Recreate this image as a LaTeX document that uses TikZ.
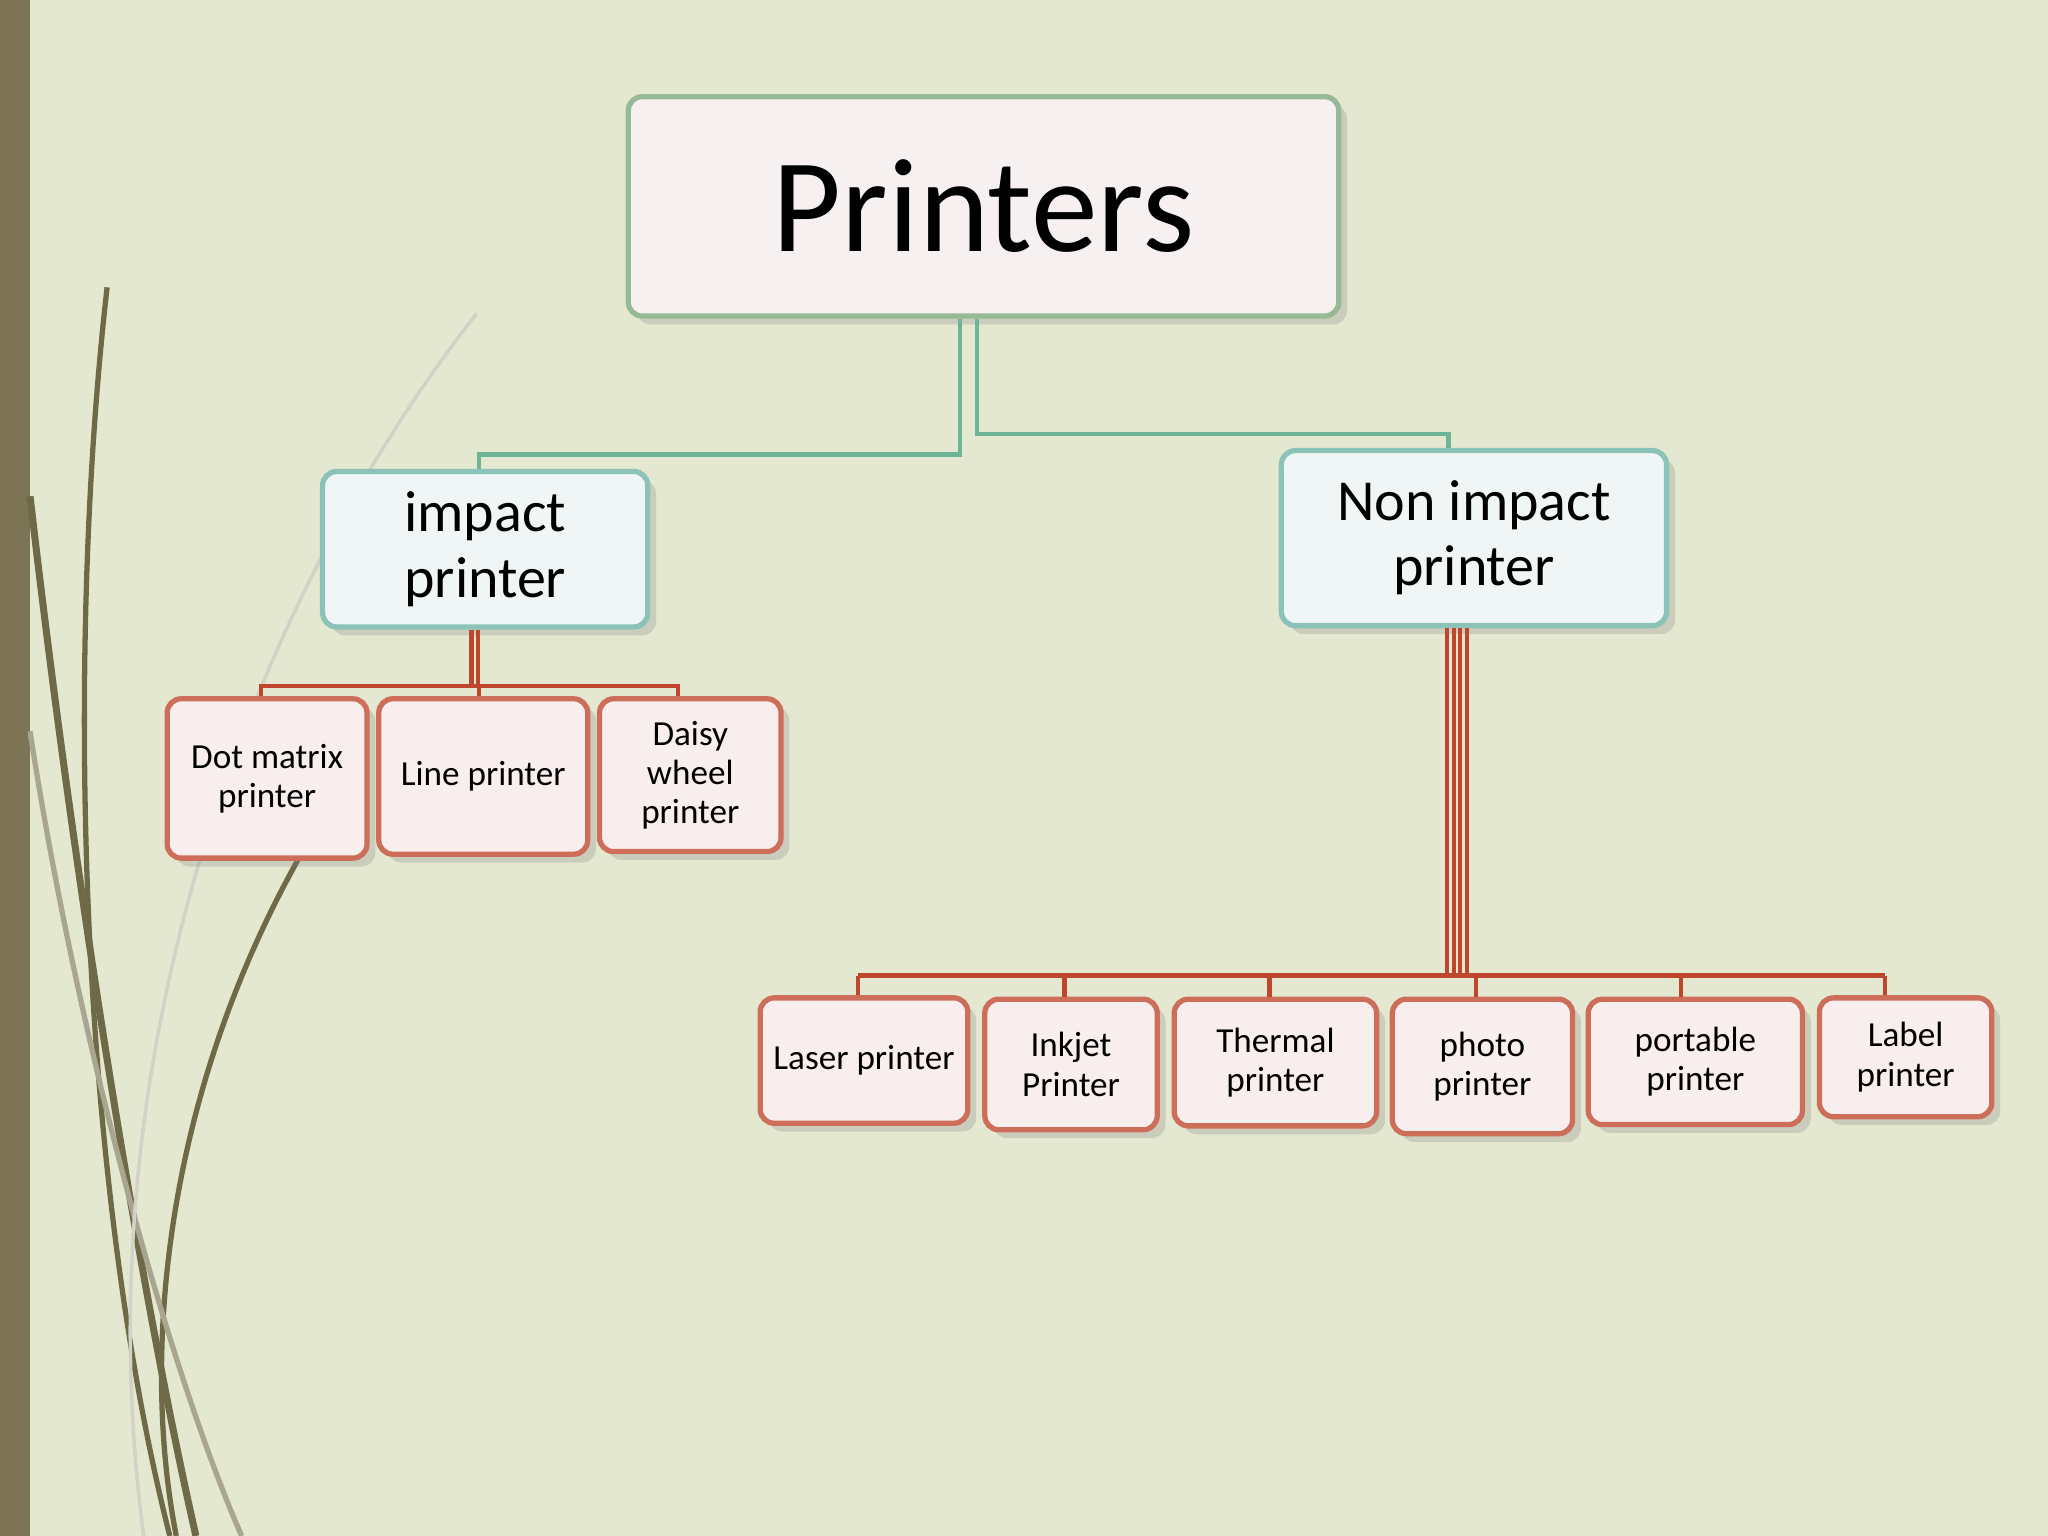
\documentclass[tikz,border=0pt]{standalone}
\usepackage{fontspec}
\setmainfont{Carlito}
\usetikzlibrary{shadows}
\definecolor{bg}{RGB}{228,232,208}
\definecolor{bar}{RGB}{125,115,85}
\definecolor{grn}{RGB}{110,180,150}
\definecolor{redl}{RGB}{190,70,45}
\definecolor{redb}{RGB}{205,110,90}
\definecolor{topb}{RGB}{150,185,150}
\definecolor{midb}{RGB}{140,195,185}
\definecolor{olive}{RGB}{110,105,70}
\newcommand\uu{0.013061cm}
\tikzset{
 sz/.style 2 args={minimum width=#1*\uu,minimum height=#2*\uu,inner sep=1pt},
 topbox/.style={draw=topb,line width=1.5pt,fill={rgb,255:red,246;green,241;blue,240},rounded corners=4pt,drop shadow={opacity=0.25}},
 midbox/.style={draw=midb,line width=1.5pt,fill={rgb,255:red,240;green,246;blue,245},rounded corners=4pt,drop shadow={opacity=0.25},align=center,font=\fontsize{16.5}{18.5}\selectfont},
 leaf/.style={draw=redb,line width=1.5pt,fill={rgb,255:red,249;green,238;blue,238},rounded corners=4pt,drop shadow={opacity=0.25},align=center,font=\fontsize{10}{11.2}\selectfont},
 gline/.style={draw=grn,line width=1.2pt},
 rline/.style={draw=redl,line width=1.2pt},
}
\begin{document}
\begin{tikzpicture}[x=0.013061cm,y=-0.013061cm]
\fill[bg] (0,0) rectangle (1568,1176);
\useasboundingbox (0,0) rectangle (1568,1176);
\fill[bar] (0,0) rectangle (23,1176);
% decorative curves
\draw[olive,line width=2pt] (23,380) .. controls (60,700) and (110,1000) .. (150,1176);
\draw[olive,line width=1.5pt] (82,220) .. controls (50,500) and (60,900) .. (130,1176);
\draw[olive,line width=1.5pt] (230,655) .. controls (120,850) and (110,1050) .. (135,1176);
\draw[olive!60,line width=1.5pt] (23,560) .. controls (60,800) and (130,1050) .. (185,1176);
\draw[olive!30,line width=1pt] (365,240) .. controls (200,450) and (60,800) .. (110,1176);
% boxes
\node[topbox,sz={544}{168},font=\fontsize{38}{42}\selectfont] (p) at (753,158) {Printers};
\node[midbox,sz={249}{119}] (ip) at (371.5,420.5) {impact\\printer};
\node[midbox,sz={295}{134}] (nip) at (1128.5,412) {Non impact\\printer};
\node[leaf,sz={153}{122}] (dm) at (204.5,596) {Dot matrix\\printer};
\node[leaf,sz={160}{119}] (lp) at (370,594.5) {Line printer};
\node[leaf,sz={139}{117}] (dw) at (528.5,593.5) {Daisy\\wheel\\printer};
\node[leaf,sz={159}{96}] (la) at (661.5,812) {Laser printer};
\node[leaf,sz={132}{100}] (ik) at (820,815) {Inkjet\\Printer};
\node[leaf,sz={155}{97}] (th) at (976.5,813.5) {Thermal\\printer};
\node[leaf,sz={138}{103}] (ph) at (1135,816.5) {photo\\printer};
\node[leaf,sz={164}{96}] (po) at (1298,813) {portable\\printer};
\node[leaf,sz={132}{91}] (lb) at (1459,809.5) {Label\\printer};
% green connectors
\draw[gline] (p.south -| 735,0) |- (367,348) -- (ip.north -| 367,0);
\draw[gline] (p.south -| 748,0) |- (1109,332) -- (nip.north -| 1109,0);
% impact connectors
\draw[rline] (ip.south -| 361,0) -- (361,525);
\draw[rline] (ip.south -| 366,0) -- (366,525);
\draw[rline] (dm.north -| 200,0) -- (200,525) -- (519,525) -- (dw.north -| 519,0);
\draw[rline] (367,525) -- (lp.north -| 367,0);
% non impact
\foreach \x in {1108,1113,1118,1123} \draw[rline] (nip.south -| \x,0) -- (\x,747);
\draw[rline,line width=1.6pt] (657,747) -- (1443,747);
\draw[rline] (657,747) -- (la.north -| 657,0);
\draw[rline] (815,747) -- (ik.north -| 815,0);
\draw[rline] (972,747) -- (th.north -| 972,0);
\draw[rline] (1130,747) -- (ph.north -| 1130,0);
\draw[rline] (1287,747) -- (po.north -| 1287,0);
\draw[rline] (1443,747) -- (lb.north -| 1443,0);
\end{tikzpicture}
\end{document}
